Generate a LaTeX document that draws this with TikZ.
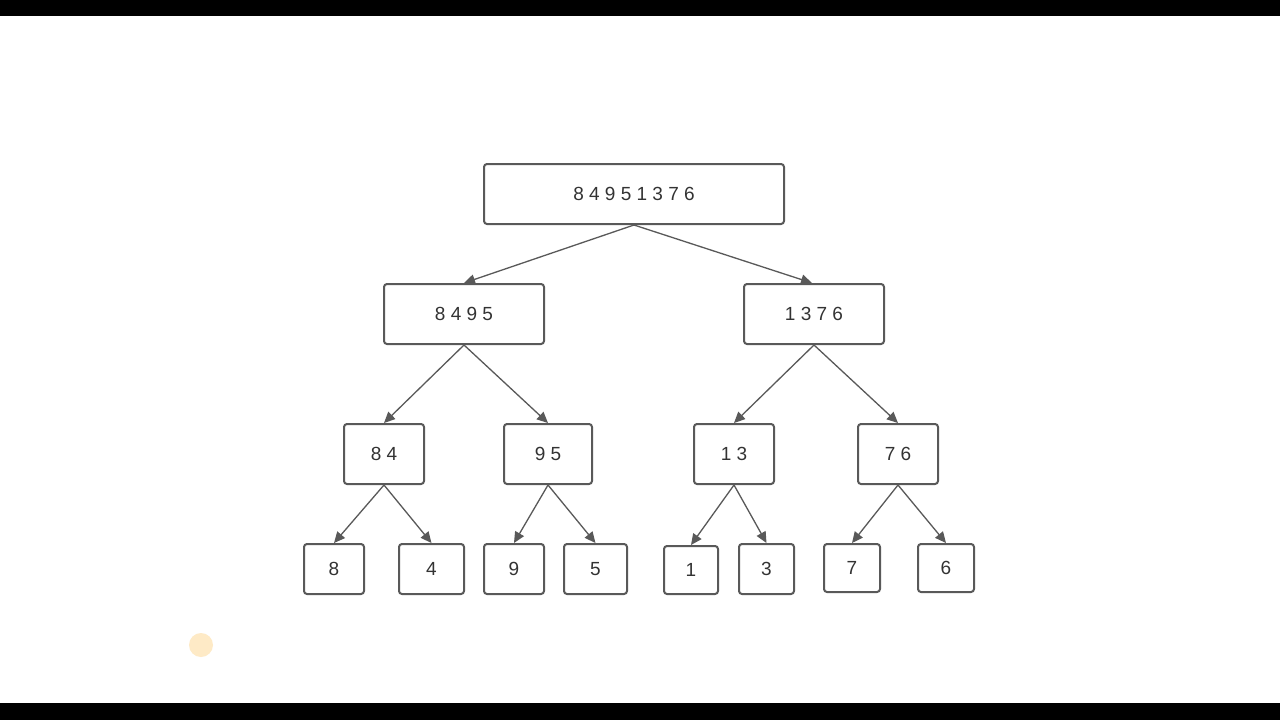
\documentclass[tikz,border=0pt]{standalone}
\usepackage{fontspec}
\setmainfont{Liberation Sans}
\usetikzlibrary{arrows.meta}
\begin{document}
\begin{tikzpicture}[x=1pt,y=-1pt,
  bx/.style={draw=black!65,line width=2pt,rounded corners=3pt,inner sep=0pt,font=\fontsize{19}{20}\selectfont,text=black!80},
  ar/.style={draw=black!65,line width=1.3pt,-{Triangle[length=11pt,width=10pt]}}]
\useasboundingbox (0,0) rectangle (1280,720);
\fill[white] (0,0) rectangle (1280,720);
\fill[black] (0,0) rectangle (1280,16);
\fill[black] (0,703) rectangle (1280,720);
\fill[yellow!25!orange!20] (201,645) circle (12);
\newcommand\bb[6]{\node[bx,minimum width={#4-#2},minimum height={#5-#3}] (#1) at ({(#2+#4)/2},{(#3+#5)/2}) {#6};}
\bb{r}{484}{164}{784}{224}{8 4 9 5 1 3 7 6}
\bb{L}{384}{284}{544}{344}{8 4 9 5}
\bb{R}{744}{284}{884}{344}{1 3 7 6}
\bb{a}{344}{424}{424}{484}{8 4}
\bb{b}{504}{424}{592}{484}{9 5}
\bb{c}{694}{424}{774}{484}{1 3}
\bb{d}{858}{424}{938}{484}{7 6}
\bb{n8}{304}{544}{364}{594}{8}
\bb{n4}{399}{544}{464}{594}{4}
\bb{n9}{484}{544}{544}{594}{9}
\bb{n5}{564}{544}{627}{594}{5}
\bb{n1}{664}{546}{718}{594}{1}
\bb{n3}{739}{544}{794}{594}{3}
\bb{n7}{824}{544}{880}{592}{7}
\bb{n6}{918}{544}{974}{592}{6}
\draw[ar] (r.south) -- (L.north);
\draw[ar] (r.south) -- ([xshift=-2pt]R.north);
\draw[ar] (L.south) -- (a.north);
\draw[ar] (L.south) -- (b.north);
\draw[ar] (R.south) -- (c.north);
\draw[ar] (R.south) -- (d.north);
\draw[ar] (a.south) -- (n8.north);
\draw[ar] (a.south) -- (n4.north);
\draw[ar] (b.south) -- (n9.north);
\draw[ar] (b.south) -- (n5.north);
\draw[ar] (c.south) -- (n1.north);
\draw[ar] (c.south) -- (n3.north);
\draw[ar] (d.south) -- (n7.north);
\draw[ar] (d.south) -- (n6.north);
\end{tikzpicture}
\end{document}
